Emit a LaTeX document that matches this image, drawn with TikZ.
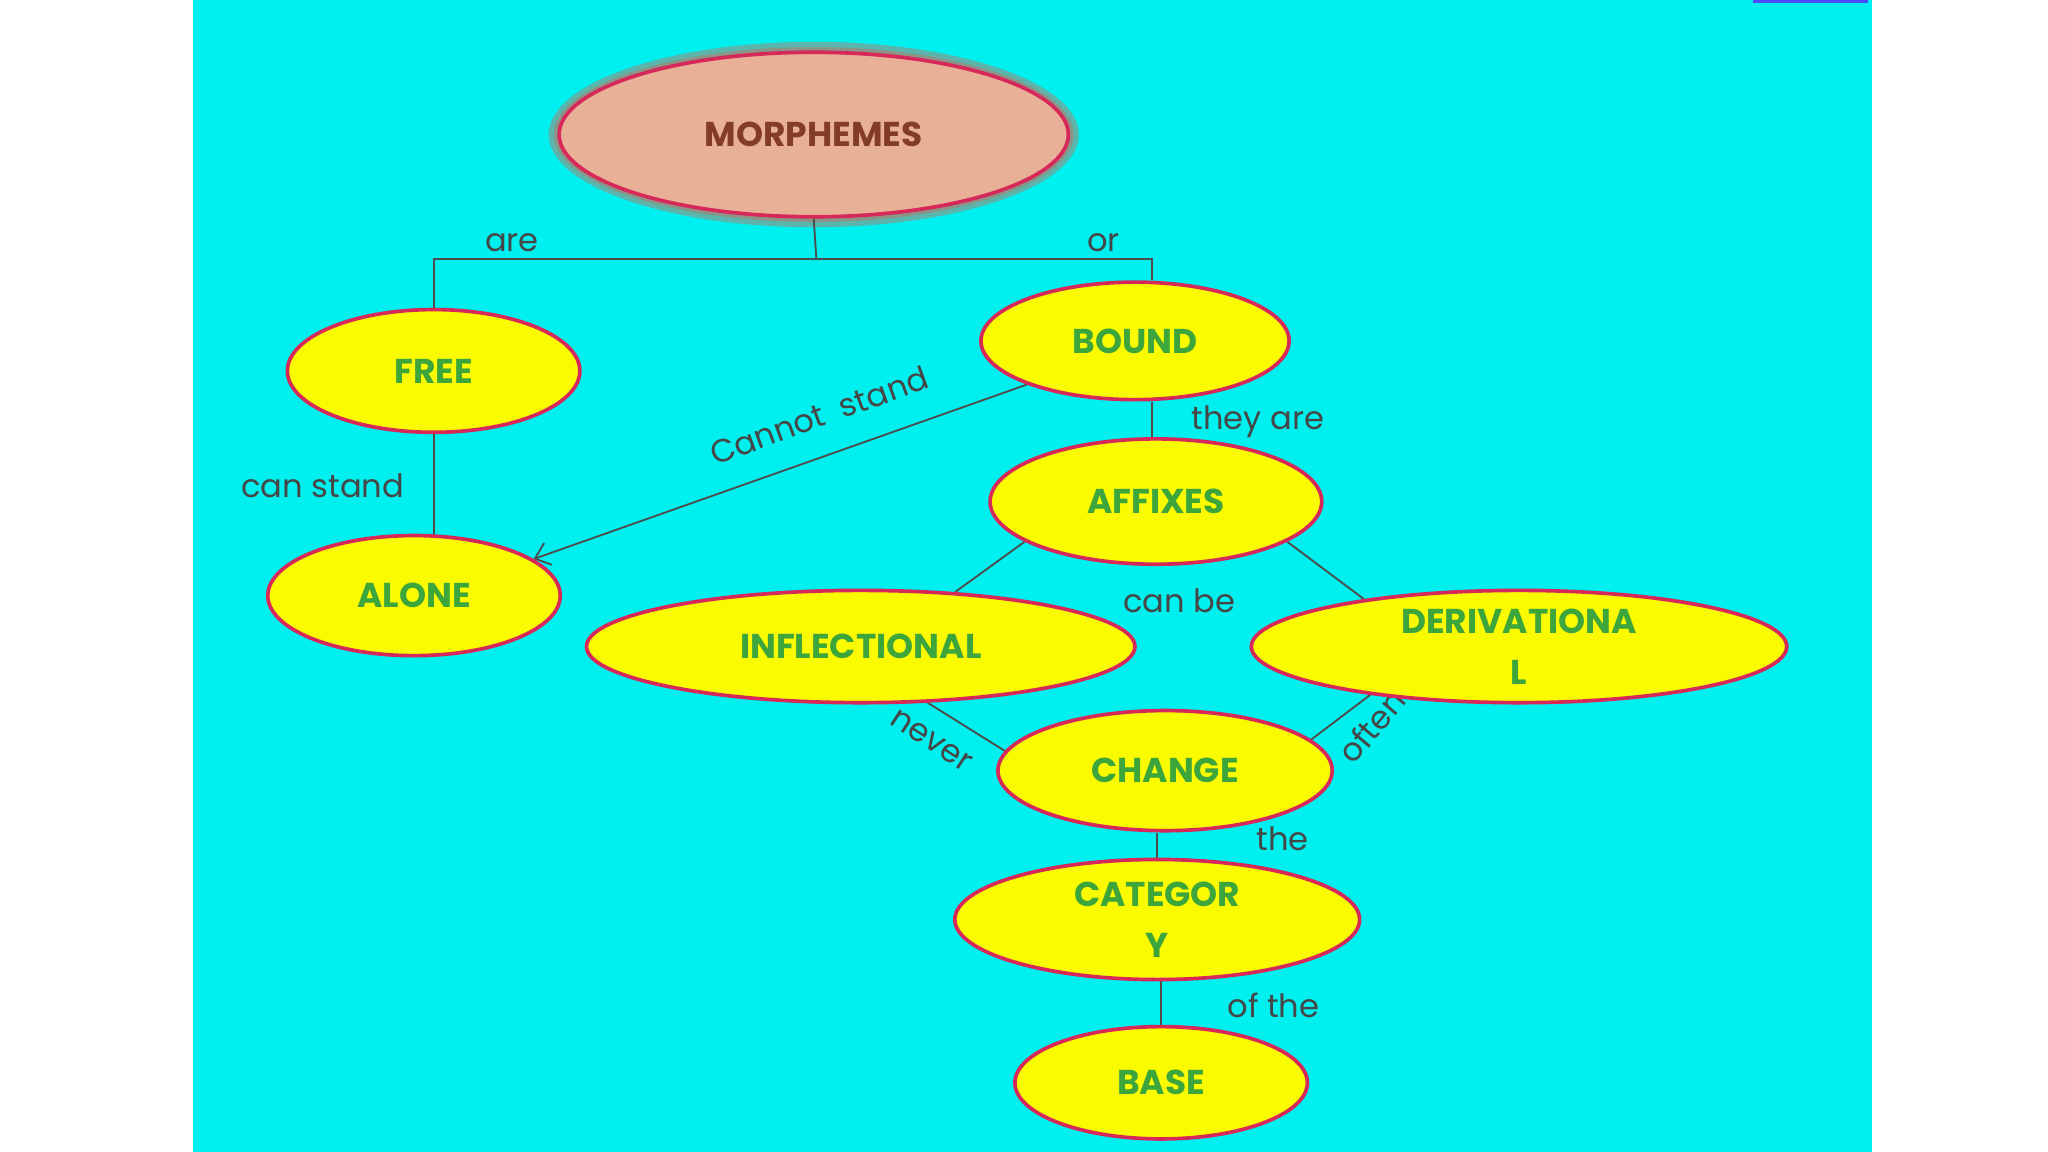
\documentclass[tikz,border=0pt]{standalone}
\usepackage{fontspec}
\setmainfont{Poppins}
\usetikzlibrary{shapes.geometric,arrows.meta}
\pgfdeclarelayer{bg}\pgfdeclarelayer{background}
\pgfsetlayers{bg,background,main}
\definecolor{cyanbg}{RGB}{0,240,240}
\definecolor{nodeyel}{RGB}{250,250,0}
\definecolor{nodered}{RGB}{215,40,90}
\definecolor{txtgreen}{RGB}{60,165,60}
\definecolor{salmon}{RGB}{232,176,150}
\definecolor{brownt}{RGB}{130,60,40}
\definecolor{glow}{RGB}{200,110,90}
\definecolor{lbl}{RGB}{70,70,70}
\tikzset{x=0.02cm,y=-0.02cm,
 ell/.style={ellipse,draw=nodered,line width=1.6pt,fill=nodeyel,inner sep=0pt,text=txtgreen,
   font=\fontsize{15}{20}\selectfont\bfseries,align=center},
 lab/.style={text=lbl,font=\fontsize{14}{16}\selectfont,inner sep=1pt},
 con/.style={draw=black!70,line width=0.8pt}}
\begin{document}
\begin{tikzpicture}
\useasboundingbox (0,0) rectangle (1568,882);
\begin{pgfonlayer}{bg}
\fill[white] (0,0) rectangle (1568,882);
\fill[cyanbg] (148,0) rectangle (1433,882);
\fill[blue!70] (1342,0) rectangle (1430,2);
\fill[glow,opacity=0.45] (623,103) ellipse [x radius=203,y radius=71];
\fill[glow,opacity=0.45] (623,103) ellipse [x radius=199,y radius=67];
\end{pgfonlayer}
\node[ell,fill=salmon,text=brownt,minimum width=7.8cm,minimum height=2.52cm] (morph) at (623,103) {MORPHEMES};
\node[ell,minimum width=4.48cm,minimum height=1.88cm] (free) at (332,284) {FREE};
\node[ell,minimum width=4.72cm,minimum height=1.8cm] (bound) at (869,261) {BOUND};
\node[ell,minimum width=4.48cm,minimum height=1.84cm] (alone) at (317,456) {ALONE};
\node[ell,minimum width=5.08cm,minimum height=1.92cm] (aff) at (885,384) {AFFIXES};
\node[ell,minimum width=8.4cm,minimum height=1.72cm] (infl) at (659,495) {INFLECTIONAL};
\node[ell,minimum width=8.2cm,minimum height=1.72cm] (deriv) at (1163,495) {DERIVATIONA\\[2pt]L};
\node[ell,minimum width=5.12cm,minimum height=1.84cm] (change) at (892,590) {CHANGE};
\node[ell,minimum width=6.2cm,minimum height=1.84cm] (cat) at (886,704) {CATEGOR\\[2pt]Y};
\node[ell,minimum width=4.48cm,minimum height=1.72cm] (base) at (889,829) {BASE};
\coordinate (j) at (625,198);
\begin{pgfonlayer}{background}
\draw[con] (morph.south) -- (j);
\draw[con] (free.north) |- (j);
\draw[con] (j) -| ([xshift=13*0.02cm]bound.north);
\draw[con] (free.south) -- (free.south|-alone.north);
\draw[con,-{Straight Barb[length=6pt,width=10pt]}] (bound.202) -- (alone.17);
\draw[con] ([xshift=13*0.02cm]bound.south) -- ([xshift=13*0.02cm]bound.south|-aff.north);
\draw[con] (aff.197) -- (infl.30);
\draw[con] (aff.-17) -- (deriv.163);
\draw[con] (infl.-40) -- (change.173);
\draw[con] (deriv.198) -- (change.12);
\draw[con] (cat.north) -- (cat.north|-change.south);
\draw[con] ([xshift=3*0.02cm]cat.south) -- ([xshift=3*0.02cm]cat.south|-base.north);
\node[lab,rotate=50] (often) at (1050,556) {often};
\end{pgfonlayer}
\node[lab] (l1) at (392,186) {are};
\node[lab] (l2) at (845,186) {or};
\node[lab] (l3) at (247,372) {can stand};
\node[lab,rotate=20] (l4) at (627,318) {Cannot\ \ stand};
\node[lab] (l5) at (963,323) {they are};
\node[lab] (l6) at (903,460) {can be};
\node[lab,rotate=-33] (l7) at (713,567) {never};
\node[lab] (l8) at (982,642) {the};
\node[lab] (l9) at (975,770) {of the};
\end{tikzpicture}
\end{document}
